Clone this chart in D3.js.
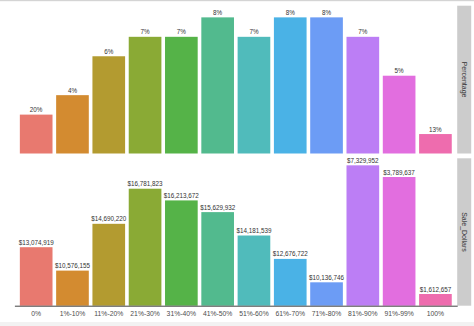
<!DOCTYPE html>
<html>
<head>
<meta charset="utf-8">
<script src="https://cdn.jsdelivr.net/npm/d3@7"></script>
<style>
  body { margin: 0; background: #fff; }
  svg { display: block; font-family: "Liberation Sans", Arial, sans-serif; }
</style>
</head>
<body>
<div class="chart"></div>
<script>
// discount buckets along the x axis
const categories = ["0%", "1%-10%", "11%-20%", "21%-30%", "31%-40%", "41%-50%",
    "51%-60%", "61%-70%", "71%-80%", "81%-90%", "91%-99%", "100%"];

// values come in as formatted text, so each panel's y scale is discrete
const percentLabels = ["20%", "4%", "6%", "7%", "7%", "8%", "7%", "8%", "8%", "7%", "5%", "13%"];
const dollarLabels = ["$13,074,919", "$10,576,155", "$14,690,220", "$16,781,823", "$16,213,672",
    "$15,629,932", "$14,181,539", "$12,676,722", "$10,136,746", "$7,329,952", "$3,789,637", "$1,612,657"];

const facetNames = ["Percentage", "Sale_Dollars"];

const barColors = ["#E8796F", "#D38B30", "#B39B30", "#8AAA35", "#55B348", "#52BA8E",
    "#50BBBB", "#4AB2E6", "#6C9CF5", "#BC7EF5", "#E26EDF", "#EE6CAE"];

const width = 474, height = 326;
const left = 14.4, right = 457.2;
const stripW = 14;
const panels = [
    {name: facetNames[0], labels: percentLabels, top: 5.7, bottom: 153.5},
    {name: facetNames[1], labels: dollarLabels, top: 158.3, bottom: 305.7}
];

const svg = d3.select('.chart')
    .append('svg')
    .attr('width', width)
    .attr('height', height);

// thin grey edges around the figure
svg.append('rect').attr('x', 0).attr('y', 0).attr('width', width).attr('height', 1.2).attr('fill', '#d4d4d4');
svg.append('rect').attr('x', 0).attr('y', 322).attr('width', width).attr('height', 4).attr('fill', '#f2f2f2');

const xScale = d3.scaleBand()
    .domain(categories)
    .range([left, right])
    .paddingInner(0.1)
    .paddingOuter(0.15);

const colorScale = d3.scaleOrdinal()
    .domain(categories)
    .range(barColors);

panels.forEach(p => {
    // discrete levels sorted as strings; bar height = level position
    const levels = Array.from(new Set(p.labels)).sort();
    const yScale = d3.scaleLinear()
        .domain([0, levels.length + 0.6])
        .range([p.bottom, p.top]);

    const rows = categories.map((c, i) => ({cat: c, label: p.labels[i], level: levels.indexOf(p.labels[i]) + 1}));

    const g = svg.append('g');

    g.selectAll('rect.bar')
        .data(rows)
        .enter()
        .append('rect')
        .attr('class', 'bar')
        .attr('x', d => xScale(d.cat))
        .attr('width', xScale.bandwidth())
        .attr('y', d => yScale(d.level))
        .attr('height', d => yScale(0) - yScale(d.level))
        .attr('fill', d => colorScale(d.cat));

    g.selectAll('text.val')
        .data(rows)
        .enter()
        .append('text')
        .attr('class', 'val')
        .attr('x', d => xScale(d.cat) + xScale.bandwidth() / 2)
        .attr('y', d => yScale(d.level) - 2.5)
        .attr('text-anchor', 'middle')
        .attr('font-size', 6.3)
        .attr('fill', '#333')
        .text(d => d.label);

    // facet strip on the right
    g.append('rect')
        .attr('x', right)
        .attr('y', p.top)
        .attr('width', stripW)
        .attr('height', p.bottom - p.top)
        .attr('fill', '#cccccc');

    g.append('text')
        .attr('transform', `translate(${right + stripW / 2},${(p.top + p.bottom) / 2}) rotate(90)`)
        .attr('text-anchor', 'middle')
        .attr('dominant-baseline', 'central')
        .attr('font-size', 7)
        .attr('fill', '#333')
        .text(p.name);
});

const xAxis = d3.axisBottom(xScale)
    .tickSize(0)
    .tickPadding(5);

const axisG = svg.append('g')
    .attr('transform', `translate(0, ${panels[1].bottom})`)
    .call(xAxis);

axisG.select('.domain')
    .attr('stroke', '#444')
    .attr('stroke-width', 1);
axisG.selectAll('text')
    .attr('font-size', 6.8)
    .attr('fill', '#4d4d4d')
    .attr('font-family', '"Liberation Sans", Arial, sans-serif');
</script>
</body>
</html>
